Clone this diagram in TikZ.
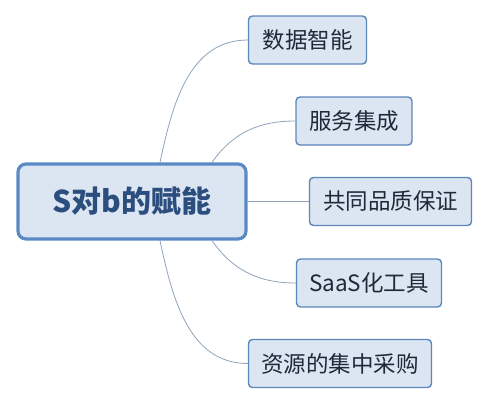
\documentclass[tikz,border=0pt]{standalone}
\usepackage{fontspec}
\setmainfont{Noto Sans CJK SC}
\definecolor{nodeFill}{HTML}{DCE6F2}
\definecolor{nodeDraw}{HTML}{5B86BA}
\definecolor{rootDraw}{HTML}{5A8AC6}
\definecolor{rootText}{HTML}{2B4E7E}
\definecolor{leafText}{HTML}{1E2A38}
\definecolor{linkColor}{HTML}{8DA3BC}
\begin{document}
\begin{tikzpicture}[x=1pt, y=-1pt,
	rootBox/.style={rectangle, draw=rootDraw, fill=nodeFill, line width=3.2pt, rounded corners=8pt, inner sep=0pt, text=rootText, font=\fontsize{30}{34}\selectfont\bfseries},
	leafBox/.style={rectangle, draw=nodeDraw, fill=nodeFill, line width=1.4pt, rounded corners=4pt, inner sep=0pt, minimum height=48pt, text=leafText, font=\fontsize{22.5}{26}\selectfont},
	link/.style={draw=linkColor, line width=0.8pt}]
	\useasboundingbox (0,0) rectangle (488,405);

	\node[rootBox, minimum width=228pt, minimum height=75pt](sForB) at (132,201.5){S对b的赋能};

	\node[leafBox, minimum width=118pt](dataAi) at (307.5,40){数据智能};
	\node[leafBox, minimum width=116pt](serviceInt) at (354,121){服务集成};
	\node[leafBox, minimum width=162pt](qualityGuar) at (390.5,201.5){共同品质保证};
	\node[leafBox, minimum width=145pt](saasTool) at (369,283){SaaS化工具};
	\node[leafBox, minimum width=183pt](centralBuy) at (340,363.5){资源的集中采购};

	\draw[link]([xshift=28pt]sForB.north) to[out=78, in=180] (dataAi.west);
	\draw[link]([xshift=80pt]sForB.north) to[out=55, in=180] (serviceInt.west);
	\draw[link](sForB.east) -- (qualityGuar.west);
	\draw[link]([xshift=80pt]sForB.south) to[out=-55, in=180] (saasTool.west);
	\draw[link]([xshift=28pt]sForB.south) to[out=-78, in=180] (centralBuy.west);

\end{tikzpicture}
\end{document}
